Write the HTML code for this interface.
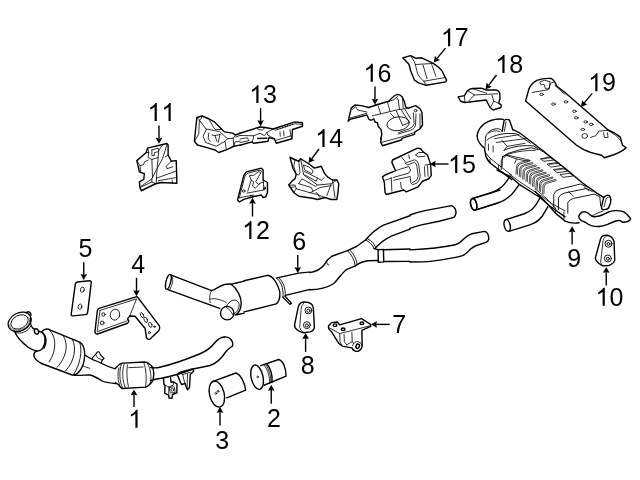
<!DOCTYPE html>
<html><head><meta charset="utf-8"><title>Exhaust system diagram</title>
<style>html,body{margin:0;padding:0;background:#fff;}body{width:640px;height:480px;overflow:hidden;font-family:"Liberation Sans",sans-serif;}svg{display:block;}#parts *{vector-effect:non-scaling-stroke;}</style>
</head><body>
<svg width="640" height="480" viewBox="0 0 640 480">
<rect width="640" height="480" fill="#fff"/>
<g id="parts" fill="none" stroke="#000" stroke-width="1.4" stroke-linejoin="round" stroke-linecap="round">
<!-- PART 1 : flange + front cat (8x view, origin 0,305) -->
<g transform="translate(0 305) scale(0.125)">
<ellipse cx="157" cy="135" rx="97" ry="72" transform="rotate(-28 157 135)" stroke-width="1.25"/>
<path d="M120 218 C160 238 225 215 246 170" stroke-width="0.8"/>
<ellipse cx="157" cy="135" rx="74" ry="52" transform="rotate(-28 157 135)" stroke-width="0.9"/><path d="M76 158 C78 195 125 212 175 195 C215 180 242 140 238 105" stroke-width="0.5"/>
<path d="M212 60 C225 48 250 58 248 82"/>
<path d="M118 212 C130 250 170 295 225 338 C250 355 275 365 292 367"/>
<path d="M108 205 C150 228 215 195 244 140" stroke-width="0.9"/>
<path d="M246 108 C238 140 245 165 262 185 L275 193"/>
<ellipse cx="292" cy="212" rx="16" ry="22" transform="rotate(-25 292 212)"/>
<path d="M308 210 L332 216"/>
<path d="M332 215 C362 235 372 290 345 340 C335 358 318 370 292 367"/>
<path d="M346 226 C372 250 376 300 352 346"/>
<path d="M335 213 C350 195 370 186 395 195"/>
<path d="M292 368 C270 378 266 400 276 420 C288 445 312 458 338 470"/>
</g>
<!-- PART 1 : front cat body (5.333x view, origin 0,300) -->
<g transform="translate(0 300) scale(0.1875)">
<path d="M262 158 L425 225 C445 235 452 265 452 295 C450 335 435 372 415 390 C405 398 395 402 385 400 L225 340"/>
<path d="M262 158 C300 195 305 265 262 330" stroke-width="0.9"/>
<path d="M335 188 C368 235 355 305 305 358" stroke-width="0.9"/>
<path d="M385 208 C410 255 398 325 350 378" stroke-width="0.9"/>
<path d="M425 226 C440 270 430 340 392 398" stroke-width="0.9"/>
<path d="M451 292 C465 302 480 312 495 318 C515 325 530 332 545 340 C560 348 590 360 615 367"/>
<path d="M492 312 L497 303 L510 290 L520 276 L530 278 L536 293 L555 312 L545 321 L541 336" stroke-width="1.1"/><path d="M510 290 L520 308 L545 321" stroke-width="0.8"/>

<path d="M395 401 C430 405 455 398 480 400 C500 403 525 420 545 432 C560 440 590 443 615 445"/>
<path d="M440 350 C455 358 465 360 478 364" stroke-width="0.8"/>
</g>
<!-- PART 1 : second cat + pipe + hangers (4x view, origin 100,300) -->
<g transform="translate(100 300) scale(0.25)">
<path d="M203 270 C215 272 225 272 235 270 C290 258 340 240 400 215 C430 203 445 190 460 170 C470 158 480 150 497 148"/>
<path d="M203 322 C215 318 230 315 245 313 C290 305 330 292 372 276 L440 262 C470 252 490 228 505 205 C512 196 522 190 530 184"/>
<path d="M497 148 C520 145 535 165 530 184"/>
</g>

<!-- PART 1 : second cat detail (10.667x view, origin 110,350) -->
<g transform="translate(110 350) scale(0.09375)">
<path d="M60 195 C75 180 85 165 100 155 C110 145 120 142 135 140 L370 128 C395 130 410 140 422 152 C440 165 450 175 456 186 C468 225 468 280 458 322 C450 340 440 355 428 362 C410 380 395 392 378 396 L135 410 C120 410 108 395 95 372 C85 365 72 358 60 350"/>
<path d="M122 148 C95 220 100 340 135 408" stroke-width="0.8"/>
<path d="M152 146 C125 220 130 330 165 404" stroke-width="0.8"/>
<path d="M186 158 C175 230 180 320 196 390" stroke-width="0.8"/>
<path d="M95 190 C80 240 82 320 100 365" stroke-width="0.8"/>
<path d="M200 188 L352 182" stroke-width="0.8"/>
<path d="M360 133 C388 200 392 320 378 394" stroke-width="0.8"/>
<path d="M398 140 C440 210 445 300 428 362" stroke-width="0.8"/>
</g>

<!-- PART 1 : hangers (8x view, origin 150,350) -->
<g transform="translate(150 350) scale(0.125)">
<path d="M108 232 L112 275 L120 282 L118 345 L150 362 L152 385 L176 386 L180 356 L215 342 L216 272 L186 255 L168 258 L165 222"/>
<path d="M120 282 L150 295 L186 282 L186 256" stroke-width="0.8"/>
<path d="M150 295 L150 360" stroke-width="0.8"/>
<rect x="158" y="296" width="40" height="46" rx="6" transform="rotate(-8 178 318)" stroke-width="0.8"/>
<circle cx="179" cy="318" r="11" stroke-width="0.8"/>
<path d="M218 205 L236 180 L340 152 L350 168 L322 196 L316 300 L300 318 L288 292 L282 268 L252 276 L236 242 L226 212 Z"/>
<path d="M236 182 L262 196 L322 178" stroke-width="0.8"/>
<path d="M262 196 L278 268" stroke-width="0.8"/>
<path d="M300 190 L298 300" stroke-width="0.8"/>
</g>
<!-- PARTS 2,3 (7.111x view, origin 200,355) -->
<g transform="translate(200 355) scale(0.140625)">
<ellipse cx="120" cy="278" rx="52" ry="94" transform="rotate(-14 120 278)"/>
<path d="M88 190 L255 128 C290 140 318 195 325 250 L190 305"/>
<circle cx="112" cy="273" r="7" stroke-width="0.7"/><circle cx="128" cy="258" r="7" stroke-width="0.7"/>
<ellipse cx="406" cy="158" rx="42" ry="88" transform="rotate(-12 406 158)"/>
<circle cx="410" cy="156" r="6" stroke-width="0.7"/>
<path d="M432 76 L560 32 C595 45 612 100 612 150 L455 215"/>
<path d="M455 70 C485 110 498 160 494 202" stroke-width="0.8"/>
<path d="M476 62 C505 100 516 150 512 195"/>
<path d="M466 68 C495 108 506 155 503 198" stroke-width="0.8"/>
</g>
<!-- PARTS 4,5 (6.4x view, origin 60,272) -->
<g transform="translate(60 272) scale(0.15625)">
<path d="M112 64 L188 56 Q202 55 200 68 L177 258 Q175 272 162 273 L84 281 Q70 282 72 268 L98 78 Q100 65 112 64 Z"/>
<ellipse cx="143" cy="113" rx="12" ry="17" transform="rotate(15 143 113)" stroke-width="0.85"/>
<ellipse cx="128" cy="222" rx="12" ry="17" transform="rotate(15 128 222)" stroke-width="0.85"/>
<path d="M492 158 L250 233 Q240 237 239 248 L224 380 Q224 398 240 397 L432 328 Q442 322 440 312 L432 300 L446 282 L480 283 L545 362 L553 418 Q560 436 575 430 L633 374 Q642 360 636 345 L502 168 Q497 160 492 158 Z"/>
<path d="M256 246 L490 172 L446 282" stroke-width="0.8"/>
<path d="M256 246 L238 382 L430 312" stroke-width="0.8"/>
<ellipse cx="352" cy="273" rx="30" ry="35" transform="rotate(15 352 273)" stroke-width="0.85"/>
<circle cx="278" cy="272" r="11" stroke-width="0.85"/><circle cx="270" cy="326" r="12" stroke-width="0.85"/>
<ellipse cx="525" cy="276" rx="9" ry="17" transform="rotate(-25 525 276)" stroke-width="0.85"/>
<ellipse cx="549" cy="306" rx="10" ry="18" transform="rotate(-25 549 306)" stroke-width="0.85"/>
<ellipse cx="578" cy="338" rx="10" ry="17" transform="rotate(-25 578 338)" stroke-width="0.85"/>
<circle cx="605" cy="350" r="5" stroke-width="0.85"/><circle cx="572" cy="388" r="7" stroke-width="0.85"/>
</g>
<!-- PARTS 8,7 (6.4x view, origin 285,292) -->
<g transform="translate(285 292) scale(0.15625)">
<path d="M86 92 Q96 62 125 64 L150 67 Q180 74 182 110 L188 225 Q185 250 160 255 L120 261 Q95 258 75 240 Q58 225 62 205 Z"/>
<path d="M120 70 Q106 85 103 110 L94 228 Q100 250 120 260" stroke-width="0.8"/>
<circle cx="150" cy="118" r="22" stroke-width="0.9"/><circle cx="150" cy="120" r="10" stroke-width="0.9"/>
<circle cx="140" cy="212" r="22" stroke-width="0.9"/><circle cx="140" cy="214" r="10" stroke-width="0.9"/>
<path d="M278 218 L298 196 L335 192 L350 210 L490 170 L548 208 L548 220 L492 246 L494 345 Q490 372 465 380 Q440 382 428 358 L366 346 L345 330 L300 258 L280 236 Z"/>
<path d="M284 230 L350 266 L546 216" stroke-width="0.8"/>
<path d="M350 266 L352 320 L366 344" stroke-width="0.8"/>
<path d="M378 270 L380 318 L395 338 M428 258 L430 318 L440 330" stroke-width="0.8"/>
<path d="M395 338 L430 318" stroke-width="0.8"/>
<ellipse cx="320" cy="212" rx="12" ry="8"/><ellipse cx="372" cy="238" rx="12" ry="8"/><ellipse cx="492" cy="200" rx="12" ry="8"/>
<path d="M432 345 Q440 315 468 318 Q492 322 494 345" stroke-width="0.8"/>
<ellipse cx="465" cy="347" rx="11" ry="14" transform="rotate(20 465 347)"/>
</g>
<!-- PART 6 inlet (6.4x view, origin 160,255) -->
<g transform="translate(160 255) scale(0.15625)">
<ellipse cx="53" cy="172" rx="15" ry="49" transform="rotate(14 53 172)"/>
<path d="M72 128 Q98 160 62 222" stroke-width="0.8"/>
<path d="M68 127 L330 228"/>
<path d="M45 220 L382 342"/>
<path d="M330 228 C360 222 380 195 410 190 C430 185 445 185 455 187 L540 167"/>
<path d="M455 187 C495 215 520 270 520 310 C518 345 505 372 482 384 L540 372"/>
<path d="M330 228 C315 255 315 285 322 305" stroke-width="0.8"/>
<path d="M320 282 C350 275 395 285 425 305" stroke-width="0.8"/>
<circle cx="430" cy="372" r="43"/>
<path d="M425 330 C440 290 490 270 505 310 C510 330 500 360 475 378" stroke-width="0.9"/>
<path d="M425 335 C440 345 460 365 468 385" stroke-width="0.8"/>
</g>
<!-- PART 6 resonator right + clamp (6.4x view, origin 230,250) -->
<g transform="translate(230 250) scale(0.15625)">
<path d="M90 197 L240 162 C275 165 305 215 318 265 C322 300 315 330 296 345 L90 396"/>

<path d="M296 180 C325 195 342 240 340 300" stroke-width="0.9"/>
<path d="M310 177 C342 200 356 250 354 292" stroke-width="0.9"/>
<path d="M336 300 L384 348 L393 340 L352 296"/>
<path d="M300 178 L440 148 C470 143 495 142 512 141"/>
<path d="M355 290 L500 255 L512 253"/>
</g>
<!-- PART 6 Y junction (6.4x view, origin 310,215) -->
<g transform="translate(310 215) scale(0.15625)">
<path d="M0 369 C40 362 70 345 90 320 C100 300 115 280 140 264 L240 228 L300 200 L355 160 C385 125 420 90 470 65 L640 5"/>
<path d="M104 296 L112 316 L122 320" stroke-width="0.8"/>
<path d="M0 478 C50 478 110 465 150 440 C180 415 200 375 232 350 L290 326 C310 310 335 298 370 293 L436 291"/>
<path d="M240 228 C268 255 285 290 290 326" stroke-width="0.9"/>
<path d="M254 224 C282 250 298 285 302 318" stroke-width="0.9"/>
<path d="M355 160 C380 170 400 190 410 215" stroke-width="0.9"/>
<path d="M368 152 C395 165 412 185 420 208" stroke-width="0.9"/>
<path d="M410 215 L436 222"/>
<path d="M436 222 L470 220 L472 300 L437 302 Z"/>
<path d="M416 214 C440 185 470 160 520 135 L640 90"/>
<path d="M470 222 L640 218"/>
<path d="M472 298 L640 297"/>
</g>
<!-- PART 6 branches (6.4x view, origin 400,190) -->
<g transform="translate(400 190) scale(0.15625)">
<path d="M64 160 C100 145 130 138 160 132 L330 100 C350 105 360 130 358 150 C356 162 352 170 345 175 L250 200 L130 225 C105 232 85 238 64 246"/>
<path d="M64 383 L150 378 C200 374 250 368 300 360 C340 355 365 350 385 335 C410 310 430 290 460 280 L540 265 C558 268 568 290 568 315 C565 325 560 332 550 335 L490 355 C470 362 460 372 450 380 C435 395 420 412 400 420 C370 430 330 437 300 441 C250 450 200 458 150 460 L64 461"/>
<ellipse cx="472" cy="92" rx="19" ry="38" transform="rotate(-14 472 92)"/>
<path d="M463 55 L640 0"/>
<path d="M482 129 L640 78"/>
</g>
<!-- PART 9 muffler left (6.4x view, origin 465,105) -->
<g transform="translate(465 105) scale(0.15625)">
<path d="M245 92 C200 84 130 100 95 150 C72 182 74 218 95 246 C105 260 115 270 125 276 L132 320 C138 345 148 360 165 374 L240 432 L300 478"/>
<path d="M238 168 L250 100 Q264 86 284 96 L306 158"/>
<path d="M262 108 L252 168" stroke-width="0.8"/>
<path d="M306 158 C330 168 350 178 365 190 L512 302"/>
<path d="M132 205 C140 170 175 150 215 152 C228 155 235 162 238 168" stroke-width="0.9"/>
<path d="M132 205 L128 270 M150 250 L150 290 M180 262 L180 300" stroke-width="0.8"/>
<path d="M140 225 C180 190 260 175 330 185 L420 245" stroke-width="0.9"/>
<path d="M150 180 C175 165 205 160 225 172" stroke-width="0.8"/>
<path d="M190 215 L345 190 M200 240 L390 215 M235 225 L270 265 L385 245 M270 265 L250 290" stroke-width="0.8"/>
<path d="M250 290 C300 265 380 255 440 262 L500 300" stroke-width="0.9"/>
<path d="M240 330 C300 300 380 290 450 290" stroke-width="0.8"/>
<path d="M128 300 L160 340 L235 400 L300 450" stroke-width="0.8"/>
<path d="M240 330 L238 395 M262 322 L330 345 L400 360 M330 345 L318 372" stroke-width="0.8"/>
<path d="M160 345 L160 372 M215 385 L215 412" stroke-width="0.8"/>
</g>
<!-- PART 9 muffler ribs + inlet pipes (6.4x view, origin 465,170) -->
<g transform="translate(465 170) scale(0.15625)">
<ellipse cx="55" cy="220" rx="19" ry="38" transform="rotate(-14 55 220)"/>
<path d="M45 183 L170 145 C210 130 245 105 265 75 L285 45"/>
<path d="M65 257 L200 215 C250 200 295 165 320 130 L345 95"/>
<ellipse cx="270" cy="355" rx="19" ry="38" transform="rotate(-14 270 355)"/>
<path d="M260 318 L380 280 C420 265 450 235 465 205 L480 178"/>
<path d="M280 393 L420 350 C465 335 495 300 510 270 L530 235"/>
<path d="M205 0 L290 42 L345 90 L480 176 L545 232 L640 300"/>
<path d="M285 28 L350 75 L490 168 L555 215 L640 262" stroke-width="0.8"/>

</g>
<!-- PART 9 muffler right (6.4x view, origin 535,155) -->
<g transform="translate(535 155) scale(0.15625)">
<path d="M64 -15 L200 91 L300 176 L400 247 L440 271"/>
<path d="M425 332 L440 272 Q458 250 478 262 Q490 285 484 305 L470 340 Q452 356 428 346 Z"/>
<path d="M442 332 L456 278 Q462 268 470 272" stroke-width="0.8"/>
<path d="M0 232 L60 292 L130 372 L160 396 L195 425 Q235 441 282 434"/>
<path d="M0 215 L75 280 L135 345" stroke-width="0.8"/>
<path d="M120 335 L120 252 Q130 225 160 218 L290 186 L335 205" stroke-width="0.9"/>
<path d="M150 350 L150 275 Q160 250 190 243 L330 214 L368 235" stroke-width="0.9"/>
<path d="M210 372 L210 305 Q220 285 245 278 L380 250 L415 268 L420 325" stroke-width="0.9"/>
<path d="M185 365 L185 410 M130 345 L130 372" stroke-width="0.8"/>
<path d="M215 235 L245 262 M315 205 L345 230" stroke-width="0.8"/>
<path d="M280 396 Q282 378 300 366 Q318 358 340 372 Q352 386 372 394 Q392 398 432 384 Q452 372 472 364 Q495 356 520 356 Q548 356 568 364 Q590 376 612 408 Q608 420 596 424 Q575 432 560 430 Q552 422 544 420 Q528 418 512 424 L464 444 Q435 455 408 458 Q380 458 360 452 Q340 444 324 432 Q308 424 296 420 Q284 410 280 396 Z"/>
<path d="M364 392 Q385 378 400 372 L436 358" stroke-width="0.9"/>
<path d="M416 388 L456 372 L478 362" stroke-width="0.8"/>
<g stroke-width="0.8">
</g>
</g>

<!-- PART 9 ribs (8x view, origin 495,140) -->
<g transform="translate(495 140) scale(0.125)" stroke-width="0.9">
<path d="M168 272 L172 210 Q176 186 204 179 L272 160 Q282 162 276 170 L208 189 Q184 196 182 214 L179 276 M194 292 L198 230 Q202 206 230 198 L298 180 Q308 182 302 190 L234 208 Q210 216 208 234 L206 296 M221 311 L225 249 Q229 225 257 218 L325 199 Q335 201 329 209 L261 228 Q237 235 235 253 L232 315 M248 330 L252 268 Q256 244 284 238 L352 218 Q362 220 356 228 L288 248 Q264 254 262 272 L258 334 M274 350 L278 288 Q282 264 310 257 L378 238 Q388 240 382 248 L314 267 Q290 274 288 292 L285 354 M300 370 L304 308 Q308 284 336 276 L404 258 Q414 260 408 268 L340 286 Q316 294 314 312 L312 374 M327 389 L331 327 Q335 303 363 296 L431 277 Q441 279 435 287 L367 306 Q343 313 341 331 L338 393 M354 408 L358 346 Q362 322 390 316 L458 296 Q468 298 462 306 L394 326 Q370 332 368 350 L364 412 M380 428 L384 366 Q388 342 416 335 L484 316 Q494 318 488 326 L420 345 Q396 352 394 370 L391 432" stroke-width="0.7"/>
<path d="M50 235 L50 165 Q60 125 100 108 Q190 75 290 62 L345 78"/>
<path d="M72 140 Q85 122 105 122 L250 155 L282 165" stroke-width="0.8"/>
<path d="M365 150 L440 135 L472 160 L395 170 Z M420 192 L500 180 L527 205 L450 216 Z M470 236 L550 225 L580 250 L500 261 Z M522 276 L600 266 L625 288 L548 298 Z" stroke-width="0.8"/>
<path d="M380 152 L450 142 M436 195 L510 186 M486 240 L560 231" stroke-width="0.7"/>
</g>
<!-- PART 19 (5.333x view, origin 520,70) -->
<g transform="translate(520 70) scale(0.1875)">
<path d="M30 165 L48 100 Q62 68 90 55 Q125 42 165 45 Q185 55 195 85 L240 120 L470 320 Q510 335 535 358 L546 400 L566 415 Q545 435 500 452 L450 468 L435 455 Q380 445 340 425 L300 400 Z"/>
<path d="M65 120 L150 105 L165 70 L186 62" stroke-width="0.8"/>
<path d="M110 76 L105 64 L130 55 L160 62 L156 100 L136 100 L130 80 Z" stroke-width="0.8"/>
<path d="M186 82 L240 130" stroke-width="0.8"/>
<path d="M375 360 L405 350 L420 326 L470 322" stroke-width="0.8"/>
<path d="M446 335 L450 360 L470 360 L466 335" stroke-width="0.8"/>
<path d="M470 322 Q515 345 540 378" stroke-width="0.8"/>
<g stroke-width="0.8">
<ellipse cx="115" cy="130" rx="10" ry="6"/><ellipse cx="178" cy="182" rx="10" ry="6"/><ellipse cx="245" cy="170" rx="10" ry="6"/>
<ellipse cx="290" cy="220" rx="10" ry="6"/><ellipse cx="300" cy="255" rx="10" ry="6"/><ellipse cx="350" cy="277" rx="10" ry="6"/>
<ellipse cx="380" cy="290" rx="10" ry="6"/><ellipse cx="335" cy="317" rx="10" ry="6"/><ellipse cx="345" cy="352" rx="15" ry="13"/>
</g>
</g>
<!-- PART 17 (6.4x view, origin 395,45) -->
<g transform="translate(395 45) scale(0.15625)">
<path d="M50 82 L100 68 L135 85 L170 82 L245 118 Q285 145 300 165 L330 225 L325 236 L200 258 L150 242 L125 225 L100 165 L90 125 Z"/>
<path d="M100 68 L122 105 L130 125 L145 185 Q160 215 185 232 L200 258" stroke-width="0.8"/>
<path d="M130 125 L245 118 M185 232 L322 208 M180 130 L205 215 M235 125 L262 200" stroke-width="0.8"/>
</g>
<!-- PART 18 (8x view, origin 450,70) -->
<g transform="translate(450 70) scale(0.125)">
<path d="M65 215 L115 205 L140 165 Q160 150 180 148 L250 145 L290 160 L370 160 Q392 165 398 185 L400 230 L390 265 L410 280 L408 300 L345 320 L320 300 L300 260 L290 240 L120 260 L85 250 Z"/>
<path d="M140 165 L195 200 L150 248 M195 200 L382 190 M115 205 L120 260 M335 200 L350 250 L325 296 M350 250 L388 265 M182 150 L292 185" stroke-width="0.8"/>
</g>
<!-- PART 16 left (8x view, origin 340,85) -->
<g transform="translate(340 85) scale(0.125)">
<path d="M290 160 L230 180 L170 165 L120 160 L90 185 L65 290 L80 275 L215 240 L232 275 L250 282 L270 270 L280 296 L300 302 L305 330 L328 355 L335 395 L325 430"/>
<path d="M100 196 L125 172 L140 200 L215 216 M82 264 L215 226" stroke-width="0.8"/>
</g>
<!-- PART 16 right (8x view, origin 365,90) -->
<g transform="translate(365 90) scale(0.125)">
<path d="M80 122 L190 90 L225 55 Q240 38 262 35 Q285 38 297 55 L315 92 L325 135 L345 146 L405 125 L440 150 L456 180 L460 280 L440 310 L400 335 L395 355 L300 385 L290 400 L140 446 L126 420 L130 385"/>
<path d="M60 205 L130 190 L250 160 L345 146" stroke-width="0.8"/>
<path d="M105 126 L125 190 M180 96 L200 172 M266 80 L276 155 M300 70 L306 146" stroke-width="0.8"/>
<path d="M190 92 Q235 85 262 52 M250 60 Q262 70 268 82" stroke-width="0.8"/>
<ellipse cx="265" cy="270" rx="90" ry="55" transform="rotate(-8 265 270)" stroke-width="0.9"/>
<path d="M205 190 L232 216 M250 166 L300 282 M290 160 L350 250 M320 156 L366 232 M300 282 L352 262" stroke-width="0.8"/>
<circle cx="405" cy="165" r="10" stroke-width="0.8"/>
<path d="M386 182 L394 270 Q385 300 350 312 L270 340" stroke-width="0.8"/>
<path d="M408 192 L404 285 Q392 318 340 330 L265 352" stroke-width="0.8"/>
<path d="M440 190 L440 300 M130 420 L290 376 L395 340" stroke-width="0.8"/>
</g>
<!-- PART 15 (8x view, origin 375,140) -->
<g transform="translate(375 140) scale(0.125)">
<path d="M140 160 L340 65 L365 70 L385 95 L420 120 L435 165 L445 200 L450 285 L430 310 L380 330 L345 375 L250 415 L230 400 L90 436 L80 420 L75 340 L60 295 L80 280 L165 245 L155 225 L135 180 Z"/>
<g stroke-width="0.8">
<path d="M215 140 L250 182 L318 158 Q345 165 350 200 L362 290 Q358 325 335 345 L300 358 L285 340 L282 292 L150 322"/>
<path d="M240 185 L262 200 L315 178 Q332 185 335 210 L345 290 Q342 315 325 328 L300 340"/>
<path d="M165 245 L270 212 L285 240 L270 265 L145 300 M130 302 L135 410 M205 340 L210 385 L230 400 M80 322 L130 305"/>
<path d="M325 120 L350 100 L385 100 M325 120 L345 135 L400 130 M400 200 L440 195 M395 212 L400 292 M420 205 L425 290 M270 120 L275 150"/>
</g>
</g>
<!-- PART 14 (8x view, origin 280,150) -->
<g transform="translate(280 150) scale(0.125)">
<path d="M80 58 L120 78 L150 90 L165 70 L230 110 L275 145 L330 130 L355 185 L380 215 L420 240 L455 240 L470 270 L465 330 L455 396 L410 396 L360 380 L300 396 L260 386 L150 370 L110 340 L70 280 L100 245 L120 230 L130 195 L105 150 Z"/>
<g stroke-width="0.8">
<path d="M120 78 L110 130 L130 195 L150 200 L160 180 L150 90"/>
<path d="M165 70 L180 150 L190 200 L300 280 L410 270 L455 240"/>
<path d="M190 120 L230 135 L265 165 L255 190 L200 160 Z"/>
<path d="M196 172 L300 225 L330 242 L355 220 M300 225 L290 250 L200 200"/>
<path d="M150 270 L175 230 L285 292 L300 280 M150 270 L250 300 L265 330 L240 342 L130 310"/>
<path d="M110 340 L130 310 L120 280 L72 282 M80 300 L115 295"/>
<path d="M410 270 L375 365 M420 240 L440 380 M290 340 L325 386 M240 342 L300 356 L360 380"/>
<path d="M265 330 L320 300 L410 285"/>
</g>
</g>
<!-- PART 13 left (8x view, origin 190,105) -->
<g transform="translate(190 105) scale(0.125)">
<path d="M400 226 L365 240 L340 225 L275 215 L240 180 L195 135 L150 110 L95 88 L55 100 L35 290 L60 320 L150 345 L200 360 L230 380 L300 355 L350 330 L400 321"/>
<path d="M350 330 L360 296 L400 289" stroke-width="0.8"/>
<g stroke-width="0.8">
<path d="M55 100 L75 120 L70 230 L40 285 M95 88 L90 110 L75 120 L130 195"/>
<path d="M150 110 L180 165 L200 195 L250 196 L240 180"/>
<path d="M130 195 L105 250 L125 300 L210 330 L280 290 L300 270 L240 215 Z"/>
<path d="M150 225 L145 272 L165 290 M200 245 L215 290 M175 240 L200 245 L240 235 M240 235 L225 300"/>
<path d="M300 270 L345 265 L365 240 M345 265 L350 330 M280 290 L290 352 M365 256 L400 244"/>
</g>
</g>
<!-- PART 13 right (8x view, origin 240,105) -->
<g transform="translate(240 105) scale(0.125)">
<path d="M0 226 L160 175 L200 180 L265 192 L440 135 L500 142 L500 170 L420 196 L415 270 L290 306 L275 270 L230 262 L225 290 L110 306 L95 295 L0 322"/>
<g stroke-width="0.8">
<path d="M140 186 L165 176 L195 186 L180 200 L150 198 Z"/>
<path d="M265 192 L215 220 L220 240 L275 270 M215 220 L195 245 L160 226 L110 246 L100 292"/>
<path d="M0 244 L110 246 M0 272 L60 262 L70 286 L0 300"/>
<path d="M140 266 L215 264 M140 270 L215 268" stroke-width="1"/>
<path d="M280 202 L440 150 L500 156"/>
<path d="M300 190 L302 196 M320 184 L322 190 M340 177 L342 184 M360 171 L362 177 M380 164 L382 171 M400 158 L402 164 M420 151 L422 158"/>
<path d="M320 215 L322 250 M350 208 L352 246 M400 196 L405 236 L415 270 M290 282 L410 246"/>
</g>
</g>
<!-- PART 12 (8x view, origin 215,155) -->
<g transform="translate(215 155) scale(0.125)">
<path d="M180 360 L230 165 L250 135 L370 105 L385 120 L385 200 L420 220 L420 300 L405 335 L385 340 L370 320 L310 332 L230 355 L195 376 Z"/>
<g stroke-width="0.8">
<path d="M195 342 L240 168 L260 146 L365 120 L372 136"/>
<path d="M262 290 L290 200 L275 165 L310 162 L350 132 L366 142 L325 215 L348 234 L378 215 L388 228 M290 200 L310 215 L300 248 L322 266 L360 228"/>
<path d="M255 305 L390 280 L402 258 M195 342 L300 322 M285 322 L286 340 L305 338 L304 320"/>
<circle cx="230" cy="288" r="10"/><ellipse cx="398" cy="266" rx="6" ry="9"/>
<path d="M386 200 L390 280"/>
</g>
</g>
<!-- PART 11 (8x view, origin 125,135) -->
<g transform="translate(125 135) scale(0.125)">
<path d="M180 105 L335 68 L345 80 L345 160 L370 210 L410 205 L415 386 L290 380 L245 390 L130 446 L120 420 L115 375 L150 355 L155 310 L115 295 L95 205 L170 140 Z"/>
<g stroke-width="0.8">
<path d="M180 105 L190 135 L185 180 L215 195 L265 180 L270 122 L300 80"/>
<path d="M215 120 L265 106 L270 125 M215 120 L215 165 L235 165 L235 140 L266 134 M170 140 L190 140"/>
<path d="M95 205 L120 245 L150 236 L155 215 L186 200 M120 245 L125 292"/>
<path d="M336 76 L300 190 L245 290 L215 350 L130 410"/>
<path d="M215 195 L220 340 M265 180 L255 290 L250 386"/>
<path d="M345 160 L320 176 M370 210 L330 250 L336 270 L382 254"/>
<path d="M250 346 L406 290 M265 366 L412 340 M376 360 L380 386"/>
<path d="M120 420 L215 376 L245 390 M215 350 L215 376"/>
</g>
</g>
<!-- PART 10 (8x view, origin 560,225) -->
<g transform="translate(560 225) scale(0.125)">
<path d="M325 110 Q332 88 350 84 L380 82 Q420 92 432 130 L438 280 Q435 300 420 308 L390 325 L340 326 Q305 308 290 285 Q280 272 285 255 Z"/>
<path d="M366 92 Q348 105 345 125 L325 298 Q330 315 342 325" stroke-width="0.8"/>
<circle cx="388" cy="150" r="28" stroke-width="0.9"/><circle cx="388" cy="152" r="12" stroke-width="0.9"/>
<circle cx="383" cy="268" r="28" stroke-width="0.9"/><circle cx="383" cy="270" r="12" stroke-width="0.9"/>
</g>

</g>
<g id="arrows"><line x1="134.00" y1="407.00" x2="134.00" y2="394.70" stroke="#000" stroke-width="1.4"/><polygon points="134.00,389.40 137.30,395.30 134.00,394.70 130.70,395.30" fill="#000"/>
<line x1="271.25" y1="403.75" x2="271.25" y2="390.05" stroke="#000" stroke-width="1.4"/><polygon points="271.25,384.75 274.55,390.65 271.25,390.05 267.95,390.65" fill="#000"/>
<line x1="220.00" y1="425.60" x2="220.00" y2="412.20" stroke="#000" stroke-width="1.4"/><polygon points="220.00,406.90 223.30,412.80 220.00,412.20 216.70,412.80" fill="#000"/>
<line x1="136.50" y1="277.75" x2="136.50" y2="290.95" stroke="#000" stroke-width="1.4"/><polygon points="136.50,296.25 133.20,290.35 136.50,290.95 139.80,290.35" fill="#000"/>
<line x1="83.75" y1="262.25" x2="83.75" y2="274.70" stroke="#000" stroke-width="1.4"/><polygon points="83.75,280.00 80.45,274.10 83.75,274.70 87.05,274.10" fill="#000"/>
<line x1="297.75" y1="255.00" x2="297.75" y2="267.80" stroke="#000" stroke-width="1.4"/><polygon points="297.75,273.10 294.45,267.20 297.75,267.80 301.05,267.20" fill="#000"/>
<line x1="389.75" y1="324.40" x2="376.30" y2="324.40" stroke="#000" stroke-width="1.4"/><polygon points="371.00,324.40 376.90,321.10 376.30,324.40 376.90,327.70" fill="#000"/>
<line x1="305.60" y1="351.90" x2="305.60" y2="338.40" stroke="#000" stroke-width="1.4"/><polygon points="305.60,333.10 308.90,339.00 305.60,338.40 302.30,339.00" fill="#000"/>
<line x1="572.10" y1="244.40" x2="572.10" y2="231.55" stroke="#000" stroke-width="1.4"/><polygon points="572.10,226.25 575.40,232.15 572.10,231.55 568.80,232.15" fill="#000"/>
<line x1="606.25" y1="285.60" x2="606.25" y2="272.20" stroke="#000" stroke-width="1.4"/><polygon points="606.25,266.90 609.55,272.80 606.25,272.20 602.95,272.80" fill="#000"/>
<line x1="159.00" y1="125.60" x2="159.00" y2="138.45" stroke="#000" stroke-width="1.4"/><polygon points="159.00,143.75 155.70,137.85 159.00,138.45 162.30,137.85" fill="#000"/>
<line x1="252.50" y1="216.50" x2="252.50" y2="203.05" stroke="#000" stroke-width="1.4"/><polygon points="252.50,197.75 255.80,203.65 252.50,203.05 249.20,203.65" fill="#000"/>
<line x1="260.60" y1="108.10" x2="260.60" y2="120.95" stroke="#000" stroke-width="1.4"/><polygon points="260.60,126.25 257.30,120.35 260.60,120.95 263.90,120.35" fill="#000"/>
<line x1="319.00" y1="149.00" x2="311.67" y2="158.85" stroke="#000" stroke-width="1.4"/><polygon points="308.50,163.10 309.38,156.40 311.67,158.85 314.67,160.34" fill="#000"/>
<line x1="448.50" y1="164.00" x2="435.05" y2="164.00" stroke="#000" stroke-width="1.4"/><polygon points="429.75,164.00 435.65,160.70 435.05,164.00 435.65,167.30" fill="#000"/>
<line x1="375.00" y1="86.50" x2="375.00" y2="99.45" stroke="#000" stroke-width="1.4"/><polygon points="375.00,104.75 371.70,98.85 375.00,99.45 378.30,98.85" fill="#000"/>
<line x1="445.50" y1="48.10" x2="437.10" y2="58.39" stroke="#000" stroke-width="1.4"/><polygon points="433.75,62.50 434.92,55.84 437.10,58.39 440.04,60.02" fill="#000"/>
<line x1="496.50" y1="75.00" x2="488.80" y2="85.17" stroke="#000" stroke-width="1.4"/><polygon points="485.60,89.40 486.53,82.70 488.80,85.17 491.79,86.69" fill="#000"/>
<line x1="592.20" y1="93.40" x2="584.30" y2="102.84" stroke="#000" stroke-width="1.4"/><polygon points="580.90,106.90 582.16,100.26 584.30,102.84 587.22,104.49" fill="#000"/></g>
<g id="labels" style="filter:grayscale(1)" font-family="Liberation Sans, sans-serif" font-size="25" fill="#000"><g aria-label="1"><path transform="translate(128.25 427.75) scale(0.01221 -0.01221)" d="M763 0H583V1147Q518 1085 412.5 1023Q307 961 223 930V1104Q374 1175 487 1276Q600 1377 647 1472H763Z"/></g>
<g aria-label="2"><text x="267.00" y="426.75">2</text></g>
<g aria-label="3"><text x="215.15" y="448.78">3</text></g>
<g aria-label="4"><text x="131.25" y="272.75">4</text></g>
<g aria-label="5"><text x="78.50" y="257.35">5</text></g>
<g aria-label="6"><text x="292.13" y="250.38">6</text></g>
<g aria-label="7"><text x="392.35" y="333.38">7</text></g>
<g aria-label="8"><text x="300.75" y="374.25">8</text></g>
<g aria-label="9"><text x="567.25" y="267.35">9</text></g>
<g aria-label="10"><path transform="translate(595.50 305.63) scale(0.01221 -0.01221)" d="M763 0H583V1147Q518 1085 412.5 1023Q307 961 223 930V1104Q374 1175 487 1276Q600 1377 647 1472H763Z"/><text x="609.40" y="305.63">0</text></g>
<g aria-label="11"><path transform="translate(147.50 120.90) scale(0.01221 -0.01221)" d="M763 0H583V1147Q518 1085 412.5 1023Q307 961 223 930V1104Q374 1175 487 1276Q600 1377 647 1472H763Z"/><path transform="translate(161.40 120.90) scale(0.01221 -0.01221)" d="M763 0H583V1147Q518 1085 412.5 1023Q307 961 223 930V1104Q374 1175 487 1276Q600 1377 647 1472H763Z"/></g>
<g aria-label="12"><path transform="translate(242.12 238.88) scale(0.01221 -0.01221)" d="M763 0H583V1147Q518 1085 412.5 1023Q307 961 223 930V1104Q374 1175 487 1276Q600 1377 647 1472H763Z"/><text x="256.02" y="238.88">2</text></g>
<g aria-label="13"><path transform="translate(249.20 103.12) scale(0.01221 -0.01221)" d="M763 0H583V1147Q518 1085 412.5 1023Q307 961 223 930V1104Q374 1175 487 1276Q600 1377 647 1472H763Z"/><text x="263.10" y="103.12">3</text></g>
<g aria-label="14"><path transform="translate(315.25 146.88) scale(0.01221 -0.01221)" d="M763 0H583V1147Q518 1085 412.5 1023Q307 961 223 930V1104Q374 1175 487 1276Q600 1377 647 1472H763Z"/><text x="329.15" y="146.88">4</text></g>
<g aria-label="15"><path transform="translate(448.00 172.88) scale(0.01221 -0.01221)" d="M763 0H583V1147Q518 1085 412.5 1023Q307 961 223 930V1104Q374 1175 487 1276Q600 1377 647 1472H763Z"/><text x="461.90" y="172.88">5</text></g>
<g aria-label="16"><path transform="translate(363.53 81.75) scale(0.01221 -0.01221)" d="M763 0H583V1147Q518 1085 412.5 1023Q307 961 223 930V1104Q374 1175 487 1276Q600 1377 647 1472H763Z"/><text x="377.43" y="81.75">6</text></g>
<g aria-label="17"><path transform="translate(440.90 46.25) scale(0.01221 -0.01221)" d="M763 0H583V1147Q518 1085 412.5 1023Q307 961 223 930V1104Q374 1175 487 1276Q600 1377 647 1472H763Z"/><text x="454.80" y="46.25">7</text></g>
<g aria-label="18"><path transform="translate(495.25 72.88) scale(0.01221 -0.01221)" d="M763 0H583V1147Q518 1085 412.5 1023Q307 961 223 930V1104Q374 1175 487 1276Q600 1377 647 1472H763Z"/><text x="509.15" y="72.88">8</text></g>
<g aria-label="19"><path transform="translate(588.15 91.27) scale(0.01221 -0.01221)" d="M763 0H583V1147Q518 1085 412.5 1023Q307 961 223 930V1104Q374 1175 487 1276Q600 1377 647 1472H763Z"/><text x="602.05" y="91.27">9</text></g></g>
</svg>
</body></html>
